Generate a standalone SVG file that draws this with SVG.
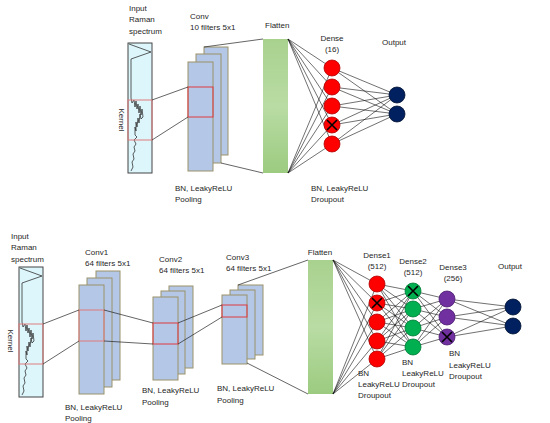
<svg xmlns="http://www.w3.org/2000/svg" xmlns:xlink="http://www.w3.org/1999/xlink" width="550" height="423" viewBox="0 0 550 423">
<style>
text{font-family:"Liberation Sans",Arial,sans-serif;font-size:8px;fill:#262626}
.mid{text-anchor:middle}
.fm{fill:#b4c7e7;stroke:#9a9268;stroke-width:1}
.kr{fill:none;stroke:#e07a7a;stroke-width:1}
.rd{fill:none;stroke:#e03a40;stroke-width:1}
.ln{stroke:#222;stroke-width:0.7;fill:none}
.cn{stroke:#111;stroke-width:0.6;fill:none}
.red{fill:#ff0000;stroke:#b00000;stroke-width:0.8}
.grn{fill:#00b050;stroke:#007a36;stroke-width:0.8}
.pur{fill:#7030a0;stroke:#4a1a70;stroke-width:0.8}
.nav{fill:#002060;stroke:#001030;stroke-width:0.8}
.x{stroke:#000;stroke-width:1.6}
.fl{fill:url(#gr);stroke:none}
</style>
<defs>
<linearGradient id="gr" x1="0" y1="0" x2="0" y2="1">
<stop offset="0" stop-color="#a9d18e"/>
<stop offset="0.5" stop-color="#b9dca4"/>
<stop offset="1" stop-color="#9ccb80"/>
</linearGradient>
<g id="spec">
<rect x="0" y="0" width="24" height="130" fill="#ddf6fb" stroke="#444" stroke-width="1"/>
<polyline fill="none" stroke="#333" stroke-width="0.8" points="1,1 23,9 3,16 3,40 3,55 4,60 6,57 7,64 8,58 9,66 10,61 11,70 12,63 13,72 14,66 15,74 13,76 12,71 11,80 10,75 9,84 8,79 8,88 7,84 7,92 9,94 6,97 8,101 6,104 7,108 5,111 6,116 4,119 5,124 3,128"/>
<rect class="kr" x="0" y="57" width="24" height="40"/>
</g>
</defs>

<!-- ===== Top network ===== -->
<g id="top-input">
<text x="129" y="11">Input</text>
<text x="129" y="22">Raman</text>
<text x="129" y="34">spectrum</text>
<use xlink:href="#spec" x="128" y="43"/>
<text transform="rotate(90 119 120)" x="119" y="120" class="mid">Kernel</text>
</g>
<g id="top-conv">
<text x="190" y="19">Conv</text>
<text x="190" y="30">10 filters 5x1</text>
<rect class="fm" x="204" y="47" width="24" height="108"/>
<rect class="fm" x="196" y="54" width="25" height="109"/>
<rect class="fm" x="188" y="62" width="25" height="109"/>
<rect class="rd" x="188" y="87" width="25" height="30"/>
<text x="175" y="191">BN, LeakyReLU</text>
<text x="175" y="202">Pooling</text>
</g>
<g id="top-flatten">
<text x="265" y="28">Flatten</text>
<rect class="fl" x="263" y="39" width="25" height="134"/>
</g>
<g id="top-connectors">
<line class="ln" x1="152" y1="100" x2="188" y2="87"/>
<line class="ln" x1="152" y1="140" x2="188" y2="117"/>
<line class="ln" x1="204" y1="47" x2="263" y2="39"/>
<line class="ln" x1="221" y1="163" x2="263" y2="173"/>
<path class="cn" d="M288,39L332,68M288,39L332,87M288,39L332,106M288,39L332,125M288,39L332,144M288,173L332,68M288,173L332,87M288,173L332,106M288,173L332,125M288,173L332,144"/>
<path class="cn" d="M332,68L397,95M332,87L397,95M332,106L397,95M332,125L397,95M332,144L397,95M332,68L397,114M332,87L397,114M332,106L397,114M332,125L397,114M332,144L397,114"/>
</g>
<g id="top-dense">
<text x="332" y="41" class="mid">Dense</text>
<text x="332" y="52" class="mid">(16)</text>
<circle class="red" cx="332" cy="68" r="8"/>
<circle class="red" cx="332" cy="87" r="8"/>
<circle class="red" cx="332" cy="106" r="8"/>
<circle class="red" cx="332" cy="125" r="8"/>
<circle class="red" cx="332" cy="144" r="8"/>
<path class="x" d="M327,120L337,130M337,120L327,130"/>
<text x="311" y="191">BN, LeakyReLU</text>
<text x="311" y="202">Droupout</text>
</g>
<g id="top-output">
<text x="394" y="45" class="mid">Output</text>
<circle class="nav" cx="397" cy="95" r="8"/>
<circle class="nav" cx="397" cy="114" r="8"/>
</g>

<!-- ===== Bottom network ===== -->
<g id="bot-input">
<text x="11" y="239">Input</text>
<text x="11" y="250">Raman</text>
<text x="11" y="262">spectrum</text>
<use xlink:href="#spec" x="19" y="267"/>
<text transform="rotate(90 8 341)" x="8" y="341" class="mid">Kernel</text>
</g>
<g id="bot-conv1">
<text x="85" y="255">Conv1</text>
<text x="85" y="266">64 filters 5x1</text>
<rect class="fm" x="96" y="271" width="24" height="109"/>
<rect class="fm" x="87" y="278" width="25" height="109"/>
<rect class="fm" x="79" y="285" width="25" height="109"/>
<rect class="kr" x="79" y="310" width="25" height="31"/>
<text x="65" y="410">BN, LeakyReLU</text>
<text x="65" y="421">Pooling</text>
</g>
<g id="bot-conv2">
<text x="159" y="262">Conv2</text>
<text x="159" y="273">64 filters 5x1</text>
<rect class="fm" x="169" y="286" width="24" height="82"/>
<rect class="fm" x="161" y="291" width="24" height="83"/>
<rect class="fm" x="153" y="297" width="25" height="83"/>
<rect class="rd" x="153" y="323" width="25" height="21"/>
<text x="142" y="393">BN, LeakyReLU</text>
<text x="142" y="405">Pooling</text>
</g>
<g id="bot-conv3">
<text x="226" y="260">Conv3</text>
<text x="226" y="271">64 filters 5x1</text>
<rect class="fm" x="238" y="285" width="25" height="70"/>
<rect class="fm" x="230" y="290" width="25" height="69"/>
<rect class="fm" x="222" y="295" width="25" height="69"/>
<rect class="rd" x="222" y="305" width="25" height="12"/>
<text x="217" y="391">BN, LeakyReLU</text>
<text x="217" y="403">Pooling</text>
</g>
<g id="bot-flatten">
<text x="320" y="255" class="mid">Flatten</text>
<rect class="fl" x="308" y="260" width="25" height="134"/>
</g>
<g id="bot-connectors">
<line class="ln" x1="43" y1="324" x2="79" y2="310"/>
<line class="ln" x1="43" y1="364" x2="79" y2="341"/>
<line class="ln" x1="104" y1="310" x2="153" y2="323"/>
<line class="ln" x1="104" y1="341" x2="153" y2="344"/>
<line class="ln" x1="178" y1="323" x2="222" y2="305"/>
<line class="ln" x1="178" y1="344" x2="222" y2="317"/>
<line class="ln" x1="238" y1="285" x2="308" y2="260"/>
<line class="ln" x1="247" y1="363" x2="308" y2="394"/>
<path class="cn" d="M333,260L377,284M333,260L377,303M333,260L377,322M333,260L377,341M333,260L377,359M333,394L377,284M333,394L377,303M333,394L377,322M333,394L377,341M333,394L377,359"/>
<path class="cn" d="M377,284L413,291M377,284L413,309M377,284L413,328M377,284L413,347M377,303L413,291M377,303L413,309M377,303L413,328M377,303L413,347M377,322L413,291M377,322L413,309M377,322L413,328M377,322L413,347M377,341L413,291M377,341L413,309M377,341L413,328M377,341L413,347M377,359L413,291M377,359L413,309M377,359L413,328M377,359L413,347"/>
<path class="cn" d="M413,291L447,299M413,291L447,317M413,291L447,337M413,309L447,299M413,309L447,317M413,309L447,337M413,328L447,299M413,328L447,317M413,328L447,337M413,347L447,299M413,347L447,317M413,347L447,337"/>
<path class="cn" d="M447,299L513,307M447,299L513,326M447,317L513,307M447,317L513,326M447,337L513,307M447,337L513,326"/>
</g>
<g id="bot-dense1">
<text x="377" y="258" class="mid">Dense1</text>
<text x="377" y="269" class="mid">(512)</text>
<circle class="red" cx="377" cy="284" r="8"/>
<circle class="red" cx="377" cy="303" r="8"/>
<circle class="red" cx="377" cy="322" r="8"/>
<circle class="red" cx="377" cy="341" r="8"/>
<circle class="red" cx="377" cy="359" r="8"/>
<path class="x" d="M372,298L382,308M382,298L372,308"/>
<text x="358" y="376">BN</text>
<text x="358" y="387">LeakyReLU</text>
<text x="358" y="398">Droupout</text>
</g>
<g id="bot-dense2">
<text x="413" y="264" class="mid">Dense2</text>
<text x="413" y="275" class="mid">(512)</text>
<circle class="grn" cx="413" cy="291" r="8"/>
<circle class="grn" cx="413" cy="309" r="8"/>
<circle class="grn" cx="413" cy="328" r="8"/>
<circle class="grn" cx="413" cy="347" r="8"/>
<path class="x" d="M408,286L418,296M418,286L408,296"/>
<text x="402" y="365">BN</text>
<text x="402" y="376">LeakyReLU</text>
<text x="402" y="387">Droupout</text>
</g>
<g id="bot-dense3">
<text x="453" y="270" class="mid">Dense3</text>
<text x="453" y="281" class="mid">(256)</text>
<circle class="pur" cx="447" cy="299" r="8"/>
<circle class="pur" cx="447" cy="317" r="8"/>
<circle class="pur" cx="447" cy="337" r="8"/>
<path class="x" d="M442,332L452,342M452,332L442,342"/>
<text x="449" y="356">BN</text>
<text x="449" y="368">LeakyReLU</text>
<text x="449" y="379">Droupout</text>
</g>
<g id="bot-output">
<text x="510" y="269" class="mid">Output</text>
<circle class="nav" cx="513" cy="307" r="8"/>
<circle class="nav" cx="513" cy="326" r="8"/>
</g>
</svg>
